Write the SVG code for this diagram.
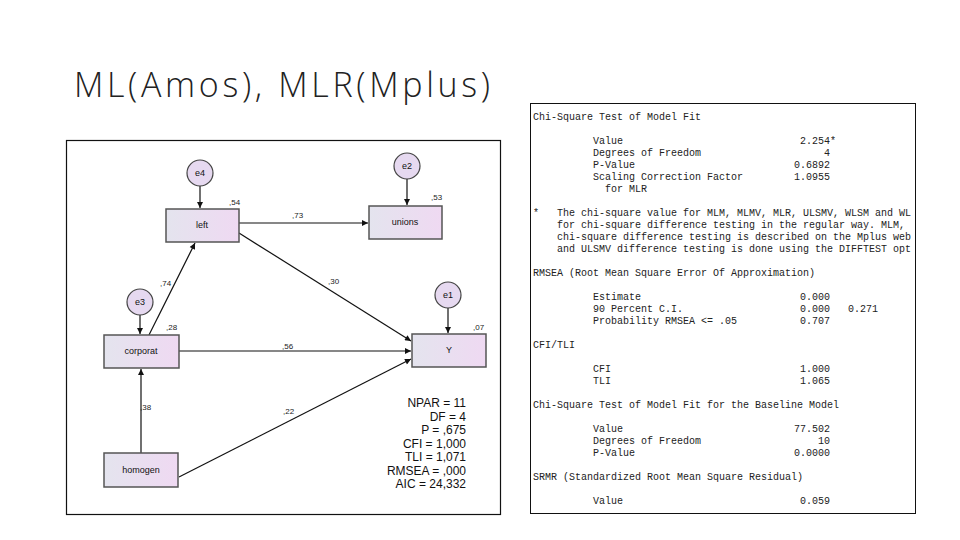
<svg xmlns="http://www.w3.org/2000/svg" width="960" height="540" viewBox="0 0 960 540">
<style>
.box{fill:url(#g);stroke:#555;stroke-width:1.5}
.err{fill:#e6d9f0;stroke:#444;stroke-width:1.2}
.nt{font-family:"Liberation Sans",Arial,sans-serif;font-size:9px;fill:#111;text-anchor:middle}
.lb{font-family:"Liberation Sans",Arial,sans-serif;font-size:8px;fill:#222}
.st{font-family:"Liberation Sans",Arial,sans-serif;font-size:12px;fill:#111;text-anchor:end}
.mo{font-family:"Liberation Mono","Courier New",monospace;font-size:10px;fill:#222}
.cn line{stroke:#111;stroke-width:1.2;marker-end:url(#ah)}
</style>
<defs>
<linearGradient id="g" x1="0" y1="0" x2="1" y2="0"><stop offset="0" stop-color="#e4e4ee"/><stop offset="1" stop-color="#efd9f2"/></linearGradient>
<marker id="ah" viewBox="0 0 10 10" refX="10" refY="5" markerWidth="7" markerHeight="6" orient="auto" markerUnits="userSpaceOnUse"><path d="M0,0L10,5L0,10z" fill="#111"/></marker>
</defs>
<rect width="960" height="540" fill="#fff"/>
<text x="74" y="97" font-family="'Open Sans','Liberation Sans',sans-serif" font-weight="300" font-size="34" textLength="416" fill="#222">ML(Amos), MLR(Mplus)</text>
<rect x="66.5" y="140.5" width="434" height="374" fill="none" stroke="#111" stroke-width="1.2"/>
<g class="cn">
<line x1="200" y1="186" x2="200" y2="208"/>
<line x1="407" y1="179" x2="407" y2="205"/>
<line x1="140" y1="315" x2="140" y2="334"/>
<line x1="448" y1="308" x2="448" y2="333"/>
<line x1="239" y1="223" x2="368" y2="223"/>
<line x1="239" y1="233" x2="411" y2="341"/>
<line x1="149" y1="335" x2="195" y2="243"/>
<line x1="179" y1="351" x2="411" y2="351"/>
<line x1="141" y1="453" x2="141" y2="369"/>
<line x1="179" y1="477" x2="411" y2="359"/>
</g>
<g id="e4"><circle class="err" cx="200" cy="173" r="13"/><text class="nt" x="200" y="176">e4</text></g>
<g id="e2"><circle class="err" cx="407" cy="166" r="13"/><text class="nt" x="407" y="169">e2</text></g>
<g id="e3"><circle class="err" cx="140" cy="302" r="13"/><text class="nt" x="140" y="305">e3</text></g>
<g id="e1"><circle class="err" cx="448" cy="295" r="13"/><text class="nt" x="448" y="298">e1</text></g>
<g id="left"><rect class="box" x="166" y="209" width="73" height="33"/><text class="nt" x="202" y="228">left</text></g>
<g id="unions"><rect class="box" x="369" y="206" width="73" height="33"/><text class="nt" x="405" y="225">unions</text></g>
<g id="corporat"><rect class="box" x="104" y="335" width="75" height="33"/><text class="nt" x="141" y="354">corporat</text></g>
<g id="Y"><rect class="box" x="412" y="334" width="74" height="33"/><text class="nt" x="449" y="353">Y</text></g>
<g id="homogen"><rect class="box" x="104" y="453" width="74" height="34"/><text class="nt" x="141" y="473">homogen</text></g>
<g class="lb">
<text x="229" y="205">,54</text><text x="292" y="218">,73</text><text x="431" y="200">,53</text>
<text x="160" y="286">,74</text><text x="328" y="284">,30</text><text x="166" y="330">,28</text>
<text x="282" y="349">,56</text><text x="473" y="330">,07</text><text x="140" y="410">,38</text><text x="283" y="414">,22</text>
</g>
<g class="st">
<text x="466" y="407">NPAR = 11</text><text x="466" y="420.5">DF = 4</text><text x="466" y="434">P = ,675</text>
<text x="466" y="447.5">CFI = 1,000</text><text x="466" y="461">TLI = 1,071</text><text x="466" y="474.5">RMSEA = ,000</text><text x="466" y="488">AIC = 24,332</text>
</g>
<rect x="530.5" y="103.5" width="385" height="410" fill="none" stroke="#111" stroke-width="1"/>
<g class="mo" xml:space="preserve">
<text x="533" y="120">Chi-Square Test of Model Fit</text>
<text x="593" y="144">Value</text><text x="593" y="156">Degrees of Freedom</text><text x="593" y="168">P-Value</text>
<text x="593" y="180">Scaling Correction Factor</text><text x="605" y="192">for MLR</text>
<text x="533" y="216">*</text>
<text x="557" y="216">The chi-square value for MLM, MLMV, MLR, ULSMV, WLSM and WL</text>
<text x="557" y="228">for chi-square difference testing in the regular way.  MLM,</text>
<text x="557" y="240">chi-square difference testing is described on the Mplus web</text>
<text x="557" y="252">and ULSMV difference testing is done using the DIFFTEST opt</text>
<text x="533" y="276">RMSEA (Root Mean Square Error Of Approximation)</text>
<text x="593" y="300">Estimate</text><text x="593" y="312">90 Percent C.I.</text><text x="593" y="324">Probability RMSEA &lt;= .05</text>
<text x="533" y="348">CFI/TLI</text>
<text x="593" y="372">CFI</text><text x="593" y="384">TLI</text>
<text x="533" y="408">Chi-Square Test of Model Fit for the Baseline Model</text>
<text x="593" y="432">Value</text><text x="593" y="444">Degrees of Freedom</text><text x="593" y="456">P-Value</text>
<text x="533" y="480">SRMR (Standardized Root Mean Square Residual)</text>
<text x="593" y="504">Value</text>
</g>
<g class="mo" text-anchor="end">
<text x="836" y="144">2.254*</text><text x="830" y="156">4</text><text x="830" y="168">0.6892</text><text x="830" y="180">1.0955</text>
<text x="830" y="300">0.000</text><text x="830" y="312">0.000</text><text x="878" y="312">0.271</text><text x="830" y="324">0.707</text>
<text x="830" y="372">1.000</text><text x="830" y="384">1.065</text>
<text x="830" y="432">77.502</text><text x="830" y="444">10</text><text x="830" y="456">0.0000</text><text x="830" y="504">0.059</text>
</g>
</svg>
